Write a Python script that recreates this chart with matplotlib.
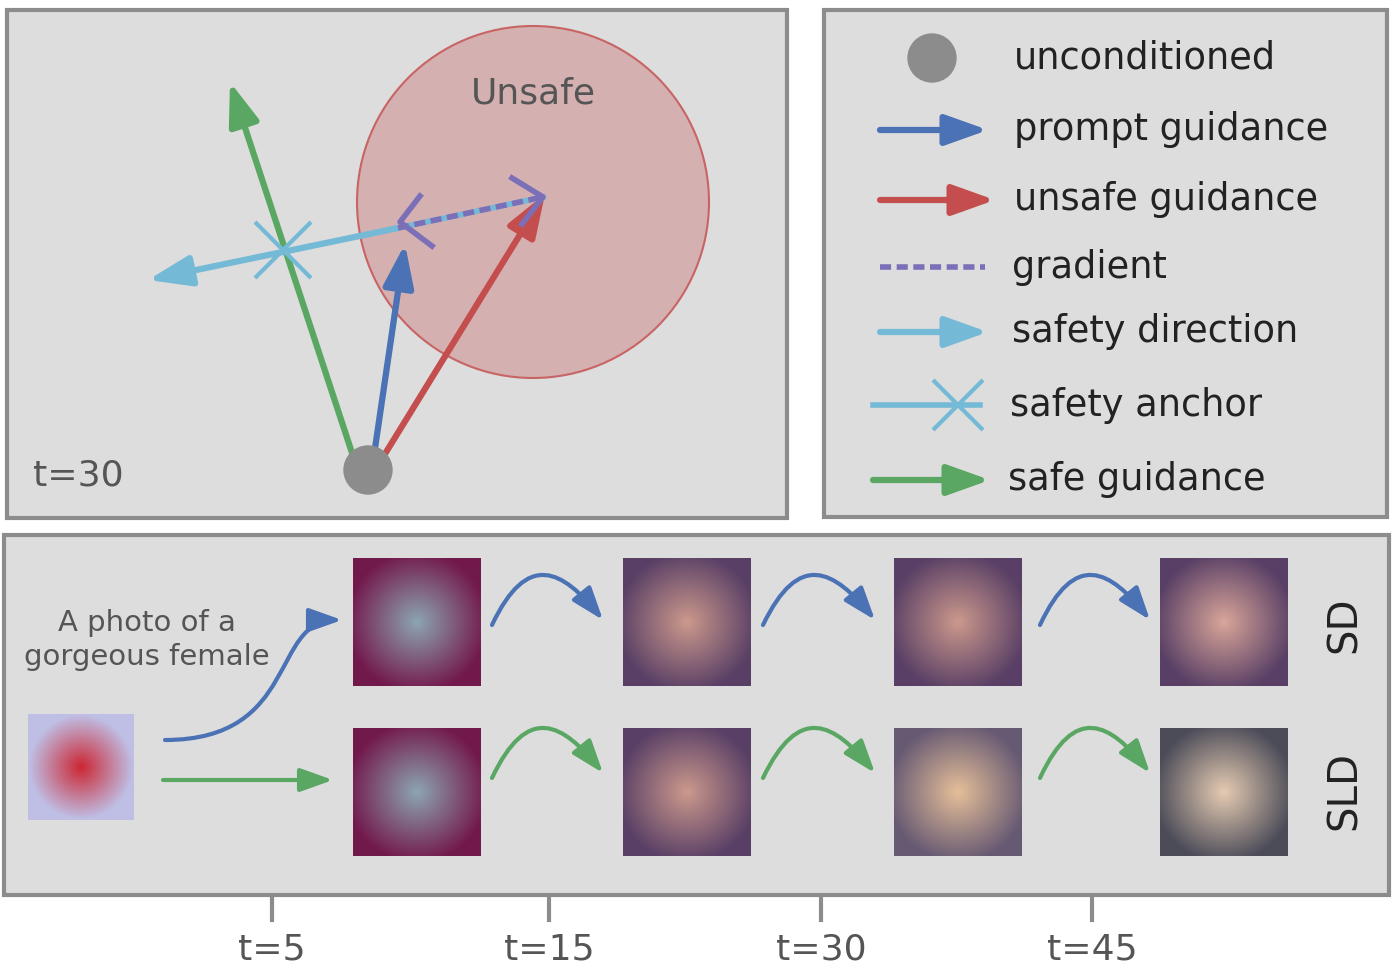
import numpy as np
import matplotlib
matplotlib.use("Agg")
import matplotlib.pyplot as plt
from matplotlib.patches import Rectangle, Circle, FancyArrowPatch
from matplotlib.path import Path

plt.rcParams["font.family"] = ["DejaVu Sans"]

GRAY_BG = "#dddddd"
EDGE = "#8c8c8c"
BLUE = "#4a72b4"
RED = "#c44e4e"
GREEN = "#5aa764"
CYAN = "#74b9d6"
PURPLE = "#7b6fb8"

legend_labels = ["unconditioned", "prompt guidance", "unsafe guidance", "gradient",
                 "safety direction", "safety anchor", "safe guidance"]
timesteps = ["t=5", "t=15", "t=30", "t=45"]
row_labels = ["SD", "SLD"]
prompt_text = "A photo of a\ngorgeous female"

fig = plt.figure(figsize=(13.96, 9.73), dpi=100)
ax = fig.add_axes([0, 0, 1, 1])
ax.set_xlim(0, 1396)
ax.set_ylim(973, 0)
ax.axis("off")


def box(x0, y0, x1, y1):
    ax.add_patch(Rectangle((x0, y0), x1 - x0, y1 - y0, facecolor=GRAY_BG,
                           edgecolor=EDGE, lw=3, zorder=0))


def arrow(p0, p1, color, lw=4, head=30, rad=0.0, z=3, path=None):
    style = f"-|>,head_length={head/10},head_width={head/28}"
    kw = dict(arrowstyle=style, color=color, lw=lw, mutation_scale=10,
              shrinkA=0, shrinkB=0, zorder=z)
    if path is not None:
        ax.add_patch(FancyArrowPatch(path=path, **kw))
    else:
        ax.add_patch(FancyArrowPatch(p0, p1, connectionstyle=f"arc3,rad={rad}", **kw))


box(7, 10, 787, 518)
box(824, 10, 1387, 517)
box(4, 535, 1389, 895)

# top-left diagram
ax.add_patch(Circle((533, 202), 176, facecolor="#d4b0b0", edgecolor="#c86464", lw=1.5, zorder=1))
ax.text(533, 93, "Unsafe", fontsize=26, color="#555555", ha="center", va="center")
ax.text(33, 475, "t=30", fontsize=26, color="#555555", ha="left", va="center")
arrow((355, 462), (230, 82), GREEN, lw=4.5, head=26)
arrow((373, 462), (405, 244), BLUE, lw=4.5, head=26)
arrow((380, 462), (545, 194), RED, lw=4.5, head=26)
arrow((398, 228), (148, 280), CYAN, lw=4.5, head=26)
ax.plot([398, 543], [228, 197], color=CYAN, lw=4, zorder=3)
ax.plot([398, 543], [228, 197], color=PURPLE, lw=4, ls=(0, (2, 1)), zorder=4)
ax.plot([420, 400, 432], [196, 222, 246], color=PURPLE, lw=4, zorder=4)
ax.plot([512, 543, 522], [178, 197, 224], color=PURPLE, lw=4, zorder=4)
ax.plot([283], [250], marker="x", ms=40, mew=3, color=CYAN, zorder=4)
ax.add_patch(Circle((368, 470), 24, color="#8c8c8c", zorder=5))

# legend panel
rows_y = [58, 130, 200, 267, 332, 405, 480]
ax.add_patch(Circle((932, rows_y[0]), 24, color="#8c8c8c"))
arrow((880, rows_y[1]), (988, rows_y[1]), BLUE, lw=4.5, head=26)
arrow((880, rows_y[2]), (995, rows_y[2]), RED, lw=4.5, head=26)
ax.plot([880, 985], [rows_y[3]] * 2, color=PURPLE, lw=4, ls=(0, (2, 1)))
arrow((880, rows_y[4]), (988, rows_y[4]), CYAN, lw=4.5, head=26)
ax.plot([873, 980], [rows_y[5]] * 2, color=CYAN, lw=4)
ax.plot([958], [rows_y[5]], marker="x", ms=36, mew=3, color=CYAN)
arrow((873, rows_y[6]), (990, rows_y[6]), GREEN, lw=4.5, head=26)
for y, label, x in zip(rows_y, legend_labels, [1014, 1014, 1014, 1012, 1012, 1010, 1008]):
    ax.text(x, y, label, fontsize=26.5, color="#222222", ha="left", va="center")

# bottom panel images (placeholder gradients)
yy, xx = np.mgrid[-1:1:64j, -1:1:64j]
rr = np.sqrt(xx ** 2 + yy ** 2)


def blob(base, center, mix):
    w = np.clip(1 - rr * mix, 0, 1)[..., None]
    return np.clip(np.array(base) * (1 - w) + np.array(center) * w, 0, 1)


img_x = [353, 623, 894, 1160]
img_rows = [558, 728]
img_size = 128
sd_colors = [((0.45, 0.1, 0.3), (0.55, 0.65, 0.7)), ((0.35, 0.25, 0.4), (0.8, 0.6, 0.55)),
             ((0.35, 0.25, 0.4), (0.8, 0.6, 0.55)), ((0.35, 0.25, 0.4), (0.85, 0.65, 0.6))]
sld_colors = [((0.45, 0.1, 0.3), (0.55, 0.65, 0.7)), ((0.35, 0.25, 0.4), (0.8, 0.6, 0.55)),
              ((0.4, 0.35, 0.45), (0.9, 0.75, 0.6)), ((0.3, 0.3, 0.35), (0.9, 0.8, 0.7))]
for row_y, colors in zip(img_rows, [sd_colors, sld_colors]):
    for x, (base, center) in zip(img_x, colors):
        ax.imshow(blob(base, center, 0.9), extent=(x, x + img_size, row_y + img_size, row_y),
                  zorder=2, interpolation="bilinear")
ax.imshow(blob((0.75, 0.75, 0.9), (0.8, 0.15, 0.2), 1.0), extent=(28, 134, 820, 714), zorder=2)
ax.set_xlim(0, 1396)
ax.set_ylim(973, 0)

ax.text(147, 640, prompt_text, fontsize=21, color="#555555", ha="center", va="center",
        linespacing=1.3)
prompt_path = Path([(165, 740), (300, 740), (270, 620), (342, 620)],
                   [Path.MOVETO, Path.CURVE4, Path.CURVE4, Path.CURVE4])
arrow(None, None, BLUE, lw=3, head=20, path=prompt_path)
arrow((163, 780), (333, 780), GREEN, lw=3, head=20)
for x0, x1 in [(492, 603), (763, 875), (1040, 1150)]:
    for y0, color in [(625, BLUE), (778, GREEN)]:
        mid = (x0 + x1) / 2
        p = Path([(x0, y0), (mid - 20, y0 - 75), (mid + 15, y0 - 55), (x1, y0 - 5)],
                 [Path.MOVETO, Path.CURVE4, Path.CURVE4, Path.CURVE4])
        arrow(None, None, color, lw=3, head=20, path=p)

for y, label in zip([625, 790], row_labels):
    ax.text(1345, y, label, fontsize=29, color="#222222", rotation=90, ha="center", va="center")

# time axis
for x, label in zip([272, 549, 821, 1092], timesteps):
    ax.plot([x, x], [897, 920], color=EDGE, lw=3)
    ax.text(x, 950, label, fontsize=26, color="#555555", ha="center", va="center")

fig.savefig("out.png", dpi=100)
